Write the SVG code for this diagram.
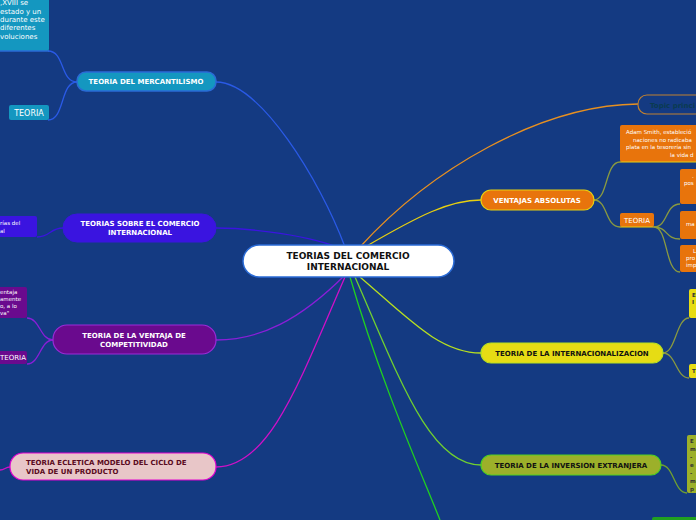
<svg xmlns="http://www.w3.org/2000/svg" width="696" height="520" viewBox="0 0 696 520">
<style>
text{font-family:"DejaVu Sans",Verdana,sans-serif;font-weight:bold}
.c{fill:none;stroke-width:1.3}
.s{font-weight:normal}
</style>
<rect width="696" height="520" fill="#143a82"/>
<g id="connectors">
<path class="c" stroke="#2a5ae6" d="M345 247 C320 180 260 82 216 82"/>
<path class="c" stroke="#3a14e0" d="M345 250 C310 235 250 228 216 228"/>
<path class="c" stroke="#8a1ed8" d="M345 275 C300 320 260 340 216 340"/>
<path class="c" stroke="#d010c8" d="M345 277 C300 380 270 467 216 467"/>
<path class="c" stroke="#e89020" d="M360 247 C430 170 540 105 638 104"/>
<path class="c" stroke="#e8d010" d="M365 247 C420 215 450 200 481 200"/>
<path class="c" stroke="#b8e020" d="M360 277 C410 320 440 353 481 353"/>
<path class="c" stroke="#70d030" d="M355 277 C400 380 430 465 481 465"/>
<path class="c" stroke="#20d020" d="M350 277 C380 380 420 470 440 520"/>
<path class="c" stroke="#2a5ae6" d="M77 82 C60 82 65 51 48 51"/>
<path class="c" stroke="#2a5ae6" d="M77 82 C60 82 65 120 48 120"/>
<path class="c" stroke="#3a14e0" d="M63 228 C50 228 50 237 37 237"/>
<path class="c" stroke="#8a1ed8" d="M53 340 C40 340 40 318 27 318"/>
<path class="c" stroke="#8a1ed8" d="M53 340 C40 340 40 364 27 364"/>
<path class="c" stroke="#d010c8" d="M10 467 C5 467 5 470 0 470"/>
<path class="c" stroke="#8a9a40" d="M594 200 C608 200 605 162 620 162"/>
<path class="c" stroke="#8a9a40" d="M594 200 C608 200 605 227 620 227"/>
<path class="c" stroke="#8a9a40" d="M654 227 C668 227 665 204 680 204"/>
<path class="c" stroke="#8a9a40" d="M654 227 C668 227 665 239 680 239"/>
<path class="c" stroke="#8a9a40" d="M654 227 C668 227 665 272 680 272"/>
<path class="c" stroke="#8a9a40" d="M663 353 C676 353 676 318 689 318"/>
<path class="c" stroke="#8a9a40" d="M663 353 C676 353 676 378 689 378"/>
<path class="c" stroke="#70a030" d="M661 465 C674 465 674 493 687 493"/>
</g>
<g id="center">
<rect x="243" y="245" width="211" height="32" rx="16" fill="#fff" stroke="#2a6bd6" stroke-width="1.5"/>
<text x="348" y="259" font-size="9" text-anchor="middle" fill="#111">TEORIAS DEL COMERCIO</text>
<text x="348" y="270" font-size="9" text-anchor="middle" fill="#111">INTERNACIONAL</text>
</g>
<g id="mercantilismo">
<rect x="77" y="72" width="139" height="19" rx="9" fill="#1497c0" stroke="#2a6bd6" stroke-width="1.5"/>
<text x="146" y="84" font-size="7" text-anchor="middle" fill="#fff">TEORIA DEL MERCANTILISMO</text>
</g>
<g id="merc-desc">
<rect x="-5" y="-5" width="54" height="56" rx="2" fill="#1497c0"/>
<line x1="0" y1="51" x2="49" y2="51" stroke="#2a6bd6" stroke-width="1.5"/>
<text class="s" font-size="7" fill="#fff"><tspan x="0" y="5">,XVIII se</tspan><tspan x="0" y="14">estado y un</tspan><tspan x="0" y="22">durante este</tspan><tspan x="0" y="30">diferentes</tspan><tspan x="0" y="39">voluciones</tspan></text>
</g>
<g id="merc-teoria">
<rect x="9" y="105" width="40" height="15" rx="2" fill="#1497c0"/>
<text class="s" x="29" y="116" font-size="8" text-anchor="middle" fill="#fff">TEORIA</text>
</g>
<g id="sobre">
<rect x="63" y="214" width="153" height="28" rx="14" fill="#3a14e0" stroke="#3a14e0"/>
<text x="140" y="226" font-size="7" text-anchor="middle" fill="#fff">TEORIAS SOBRE EL COMERCIO</text>
<text x="140" y="235" font-size="7" text-anchor="middle" fill="#fff">INTERNACIONAL</text>
</g>
<g id="sobre-desc">
<rect x="-5" y="216" width="42" height="21" rx="2" fill="#3a14e0"/>
<text class="s" font-size="5.5" fill="#fff"><tspan x="0" y="225">rías del</tspan><tspan x="0" y="233">al</tspan></text>
</g>
<g id="competitividad">
<rect x="53" y="325" width="163" height="29" rx="14" fill="#6a0a8e" stroke="#9b2bd8" stroke-width="1.2"/>
<text x="134" y="338" font-size="7" text-anchor="middle" fill="#fff">TEORIA DE LA VENTAJA DE</text>
<text x="134" y="347" font-size="7" text-anchor="middle" fill="#fff">COMPETITIVIDAD</text>
</g>
<g id="comp-desc">
<rect x="-5" y="287" width="32" height="31" rx="2" fill="#6a0a8e"/>
<text class="s" font-size="5.5" fill="#fff"><tspan x="0" y="294">entaja</tspan><tspan x="0" y="301">amente</tspan><tspan x="0" y="308">o, a lo</tspan><tspan x="0" y="315">va"</tspan></text>
</g>
<g id="comp-teoria">
<rect x="-5" y="351" width="32" height="13" rx="2" fill="#6a0a8e"/>
<text class="s" x="0" y="360" font-size="7" fill="#fff">TEORIA</text>
</g>
<g id="ecletica">
<rect x="10" y="453" width="206" height="27" rx="13" fill="#e8c6c8" stroke="#e000d0" stroke-width="1.2"/>
<text x="26" y="465" font-size="7" fill="#5a0a20">TEORIA ECLETICA MODELO DEL CICLO DE</text>
<text x="26" y="474" font-size="7" fill="#5a0a20">VIDA DE UN PRODUCTO</text>
</g>
<g id="topic">
<rect x="638" y="95" width="70" height="19" rx="9" fill="#143a82" stroke="#c08030" stroke-width="1.2"/>
<text x="650" y="108" font-size="7" fill="#0a3a50">Topic princi</text>
</g>
<g id="absolutas">
<rect x="481" y="190" width="113" height="20" rx="10" fill="#e8740c" stroke="#e8d010" stroke-width="1.2"/>
<text x="537" y="203" font-size="7" text-anchor="middle" fill="#fff">VENTAJAS ABSOLUTAS</text>
</g>
<g id="abs-desc">
<rect x="620" y="125" width="80" height="37" rx="2" fill="#e8740c"/>
<line x1="620" y1="162" x2="696" y2="162" stroke="#e8d010"/>
<text class="s" font-size="5.5" fill="#fff"><tspan x="626" y="134">Adam Smith, estableció</tspan><tspan x="633" y="142">naciones no radicaba</tspan><tspan x="626" y="149">plata en la tesorería sin</tspan><tspan x="670" y="157">la vida d</tspan></text>
</g>
<g id="abs-teoria">
<rect x="620" y="213" width="34" height="14" rx="2" fill="#e8740c"/>
<line x1="620" y1="227" x2="654" y2="227" stroke="#e8d010"/>
<text class="s" x="637" y="223" font-size="7" text-anchor="middle" fill="#fff">TEORIA</text>
</g>
<g id="abs-t1">
<rect x="680" y="169" width="20" height="35" rx="2" fill="#e8740c"/>
<text class="s" font-size="5.5" fill="#fff"><tspan x="692" y="178">.</tspan><tspan x="684" y="185">pos</tspan></text>
</g>
<g id="abs-t2">
<rect x="680" y="211" width="20" height="28" rx="2" fill="#e8740c"/>
<text class="s" x="686" y="226" font-size="5.5" fill="#fff">ma</text>
</g>
<g id="abs-t3">
<rect x="680" y="245" width="20" height="27" rx="2" fill="#e8740c"/>
<text class="s" font-size="5.5" fill="#fff"><tspan x="693" y="253">L</tspan><tspan x="686" y="260">pro</tspan><tspan x="686" y="267">imp</tspan></text>
</g>
<g id="internacionalizacion">
<rect x="481" y="343" width="182" height="20" rx="10" fill="#e6dc14" stroke="#b8e020" stroke-width="1.2"/>
<text x="572" y="356" font-size="7" text-anchor="middle" fill="#111">TEORIA DE LA INTERNACIONALIZACION</text>
</g>
<g id="int-desc">
<rect x="689" y="289" width="12" height="29" rx="2" fill="#e6dc14"/>
<text font-size="5.5" fill="#333"><tspan x="692" y="297">E</tspan><tspan x="692" y="304">I</tspan></text>
</g>
<g id="int-teoria">
<rect x="689" y="364" width="12" height="14" rx="2" fill="#e6dc14"/>
<text x="692" y="373" font-size="5.5" fill="#333">T</text>
</g>
<g id="inversion">
<rect x="481" y="455" width="180" height="20" rx="10" fill="#9cb02a" stroke="#50d020" stroke-width="1.2"/>
<text x="571" y="468" font-size="7" text-anchor="middle" fill="#111">TEORIA DE LA INVERSION EXTRANJERA</text>
</g>
<g id="inv-desc">
<rect x="687" y="435" width="14" height="58" rx="2" fill="#9cb02a"/>
<text font-size="5.5" fill="#333"><tspan x="690" y="443">E</tspan><tspan x="690" y="451">m</tspan><tspan x="690" y="459">-</tspan><tspan x="690" y="467">e</tspan><tspan x="690" y="475">-</tspan><tspan x="690" y="483">m</tspan><tspan x="690" y="491">p</tspan></text>
</g>
<g id="bottom-node">
<rect x="652" y="517" width="60" height="10" rx="2" fill="#20a020"/>
</g>
</svg>
